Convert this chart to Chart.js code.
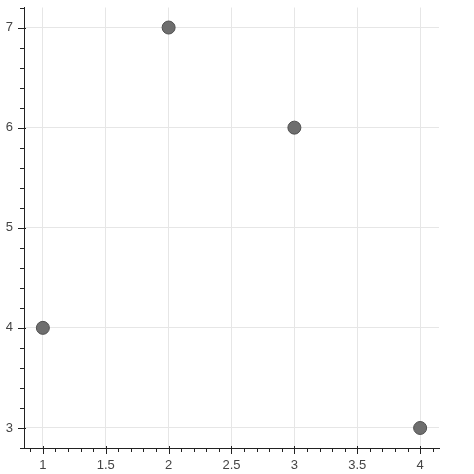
<!DOCTYPE html>
<html>
<head>
<meta charset="utf-8">
<script src="https://cdn.jsdelivr.net/npm/chart.js@4"></script>
<style>
   html, body { margin: 0; padding: 0; background: #fff; }
   canvas { display: block; }
</style>
</head>
<body>
<canvas id="chart1" width="474" height="474"></canvas>
<script>
const xValues = [1, 2, 3, 4];
const yValues = [4, 7, 6, 3];
const xTicks = [1, 1.5, 2, 2.5, 3, 3.5, 4];
const yTicks = [3, 4, 5, 6, 7];

// ticks drawn by hand, bokeh style: major out 6 / in 2, minor out 4
const axisTicks = {
   id: "axisTicks",
   afterDraw(chart) {
      const ctx = chart.ctx;
      const xs = chart.scales.x;
      const ys = chart.scales.y;
      const area = chart.chartArea;
      ctx.save();
      ctx.strokeStyle = "#222";
      ctx.lineWidth = 1;
      ctx.beginPath();
      for (let i = Math.ceil(xs.min * 10); i <= Math.floor(xs.max * 10); i++) {
         const px = Math.round(xs.getPixelForValue(i / 10)) + 0.5;
         if (i % 5 === 0) {
            ctx.moveTo(px, area.bottom - 2);
            ctx.lineTo(px, area.bottom + 6);
         } else {
            ctx.moveTo(px, area.bottom);
            ctx.lineTo(px, area.bottom + 4);
         }
      }
      for (let i = Math.ceil(ys.min * 5); i <= Math.floor(ys.max * 5); i++) {
         const py = Math.round(ys.getPixelForValue(i / 5)) + 0.5;
         if (i % 5 === 0) {
            ctx.moveTo(area.left + 2, py);
            ctx.lineTo(area.left - 6, py);
         } else {
            ctx.moveTo(area.left, py);
            ctx.lineTo(area.left - 4, py);
         }
      }
      ctx.stroke();
      ctx.restore();
   }
};

const config = {
   type: 'scatter',
   data: {
      datasets: [{
         data: xValues.map((x, i) => ({ x: x, y: yValues[i] })),
         backgroundColor: "#6e6e6e",
         borderColor: "#505050",
         borderWidth: 1,
         pointRadius: 6.5,
      }]
   },
   options: {
      responsive: false,
      animation: false,
      layout: {
         padding: { top: 6, right: 35, left: 0, bottom: 0 }
      },
      plugins: {
         legend: { display: false },
         tooltip: { enabled: false },
      },
      scales: {
         x: {
            type: 'linear',
            min: 0.85,
            max: 4.15,
            afterBuildTicks: (scale) => { scale.ticks = xTicks.map(v => ({ value: v })); },
            afterFit: (scale) => {
               scale.height = 26;
               scale.paddingLeft = 0;
               scale.paddingRight = 0;
            },
            grid: { color: "#e6e6e6", drawTicks: false },
            border: { display: true, color: "#222", width: 1 },
            ticks: {
               padding: 10,
               color: "#444",
               font: { family: "Liberation Sans", size: 13 },
               maxRotation: 0,
               callback: (v) => String(v),
            }
         },
         y: {
            type: 'linear',
            min: 2.8,
            max: 7.2,
            afterBuildTicks: (scale) => { scale.ticks = yTicks.map(v => ({ value: v })); },
            afterFit: (scale) => {
               scale.width = 24;
               scale.paddingTop = 0;
               scale.paddingBottom = 0;
            },
            grid: { color: "#e6e6e6", drawTicks: false },
            border: { display: true, color: "#222", width: 1 },
            ticks: {
               padding: 11,
               color: "#444",
               font: { family: "Liberation Sans", size: 13 },
               callback: (v) => String(v),
            }
         }
      }
   },
   plugins: [axisTicks]
};

const chart = new Chart(document.querySelector("#chart1"), config);
</script>
</body>
</html>
